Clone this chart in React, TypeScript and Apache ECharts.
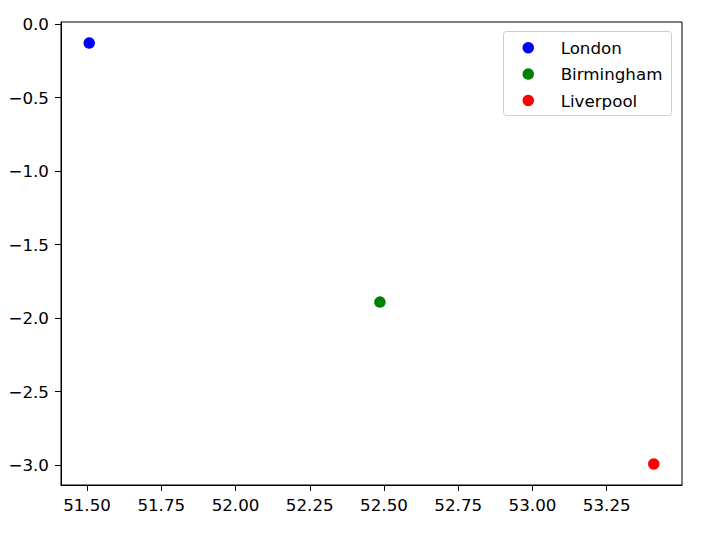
import React, { useEffect, useRef } from "react";
import * as echarts from "echarts";

const cities = ["London", "Birmingham", "Liverpool"];
const latitudes = [51.5074, 52.4862, 53.4084];
const longitudes = [-0.1278, -1.8904, -2.9916];
const cityColors = ["#0000ff", "#008000", "#ff0000"];
const xTicks = [51.5, 51.75, 52.0, 52.25, 52.5, 52.75, 53.0, 53.25];
const yTicks = [-3.0, -2.5, -2.0, -1.5, -1.0, -0.5, 0.0];

export default function App() {
  const ref = useRef<HTMLDivElement>(null);
  useEffect(() => {
    if (!ref.current) return;
    const chart = echarts.init(ref.current, null, { renderer: "svg" });
    const xSpan = Math.max(...latitudes) - Math.min(...latitudes);
    const ySpan = Math.max(...longitudes) - Math.min(...longitudes);
    const xMin = Math.min(...latitudes) - xSpan * 0.05;
    const xMax = Math.max(...latitudes) + xSpan * 0.05;
    const yMin = Math.min(...longitudes) - ySpan * 0.05;
    const yMax = Math.max(...longitudes) + ySpan * 0.05;
    const font = "DejaVu Sans";
    const fs = 16.7;
    chart.setOption({
      animation: false,
      backgroundColor: "#ffffff",
      grid: {
        left: 61,
        right: 20,
        top: 22,
        bottom: 48,
        show: true,
        borderColor: "#000000",
        borderWidth: 1,
        backgroundColor: "transparent",
      },
      graphic: [
        {
          type: "rect",
          z: 3,
          shape: { x: 503.5, y: 31.5, width: 168, height: 84, r: 3 },
          style: { fill: "rgba(255,255,255,0.8)", stroke: "#cccccc", lineWidth: 1 },
        },
      ],
      xAxis: {
        type: "value",
        min: xMin,
        max: xMax,
        splitLine: { show: false },
        axisLine: { show: true, onZero: false, lineStyle: { color: "#000", width: 1 } },
        axisTick: {
          show: true,
          inside: false,
          length: 6,
          customValues: xTicks,
          lineStyle: { color: "#000", width: 1 },
        },
        axisLabel: {
          customValues: xTicks,
          margin: 11,
          color: "#000",
          fontFamily: font,
          fontSize: fs,
          formatter: (v: number) => v.toFixed(2),
        },
      },
      yAxis: {
        type: "value",
        min: yMin,
        max: yMax,
        splitLine: { show: false },
        axisLine: { show: true, onZero: false, lineStyle: { color: "#000", width: 1 } },
        axisTick: {
          show: true,
          inside: false,
          length: 6,
          customValues: yTicks,
          lineStyle: { color: "#000", width: 1 },
        },
        axisLabel: {
          customValues: yTicks,
          margin: 12,
          color: "#000",
          fontFamily: font,
          fontSize: fs,
          formatter: (v: number) => v.toFixed(1).replace("-", "\u2212"),
        },
      },
      legend: {
        show: true,
        orient: "vertical",
        left: 522.5,
        top: 37.7,
        padding: 0,
        itemWidth: 54.8,
        itemHeight: 11.5,
        itemGap: 6.4,
        icon: "circle",
        textStyle: {
          color: "#000",
          fontFamily: font,
          fontSize: fs,
          lineHeight: 20,
        },
        data: cities,
      },
      series: cities.map((name, i) => ({
        type: "scatter",
        name,
        symbol: "circle",
        symbolSize: 11.5,
        itemStyle: { color: cityColors[i], opacity: 1 },
        data: [[latitudes[i], longitudes[i]]],
      })),
    });
    return () => chart.dispose();
  }, []);
  return (
    <div
      ref={ref}
      style={{ position: "fixed", left: 0, top: 0, width: 702, height: 533, background: "#fff" }}
    />
  );
}
